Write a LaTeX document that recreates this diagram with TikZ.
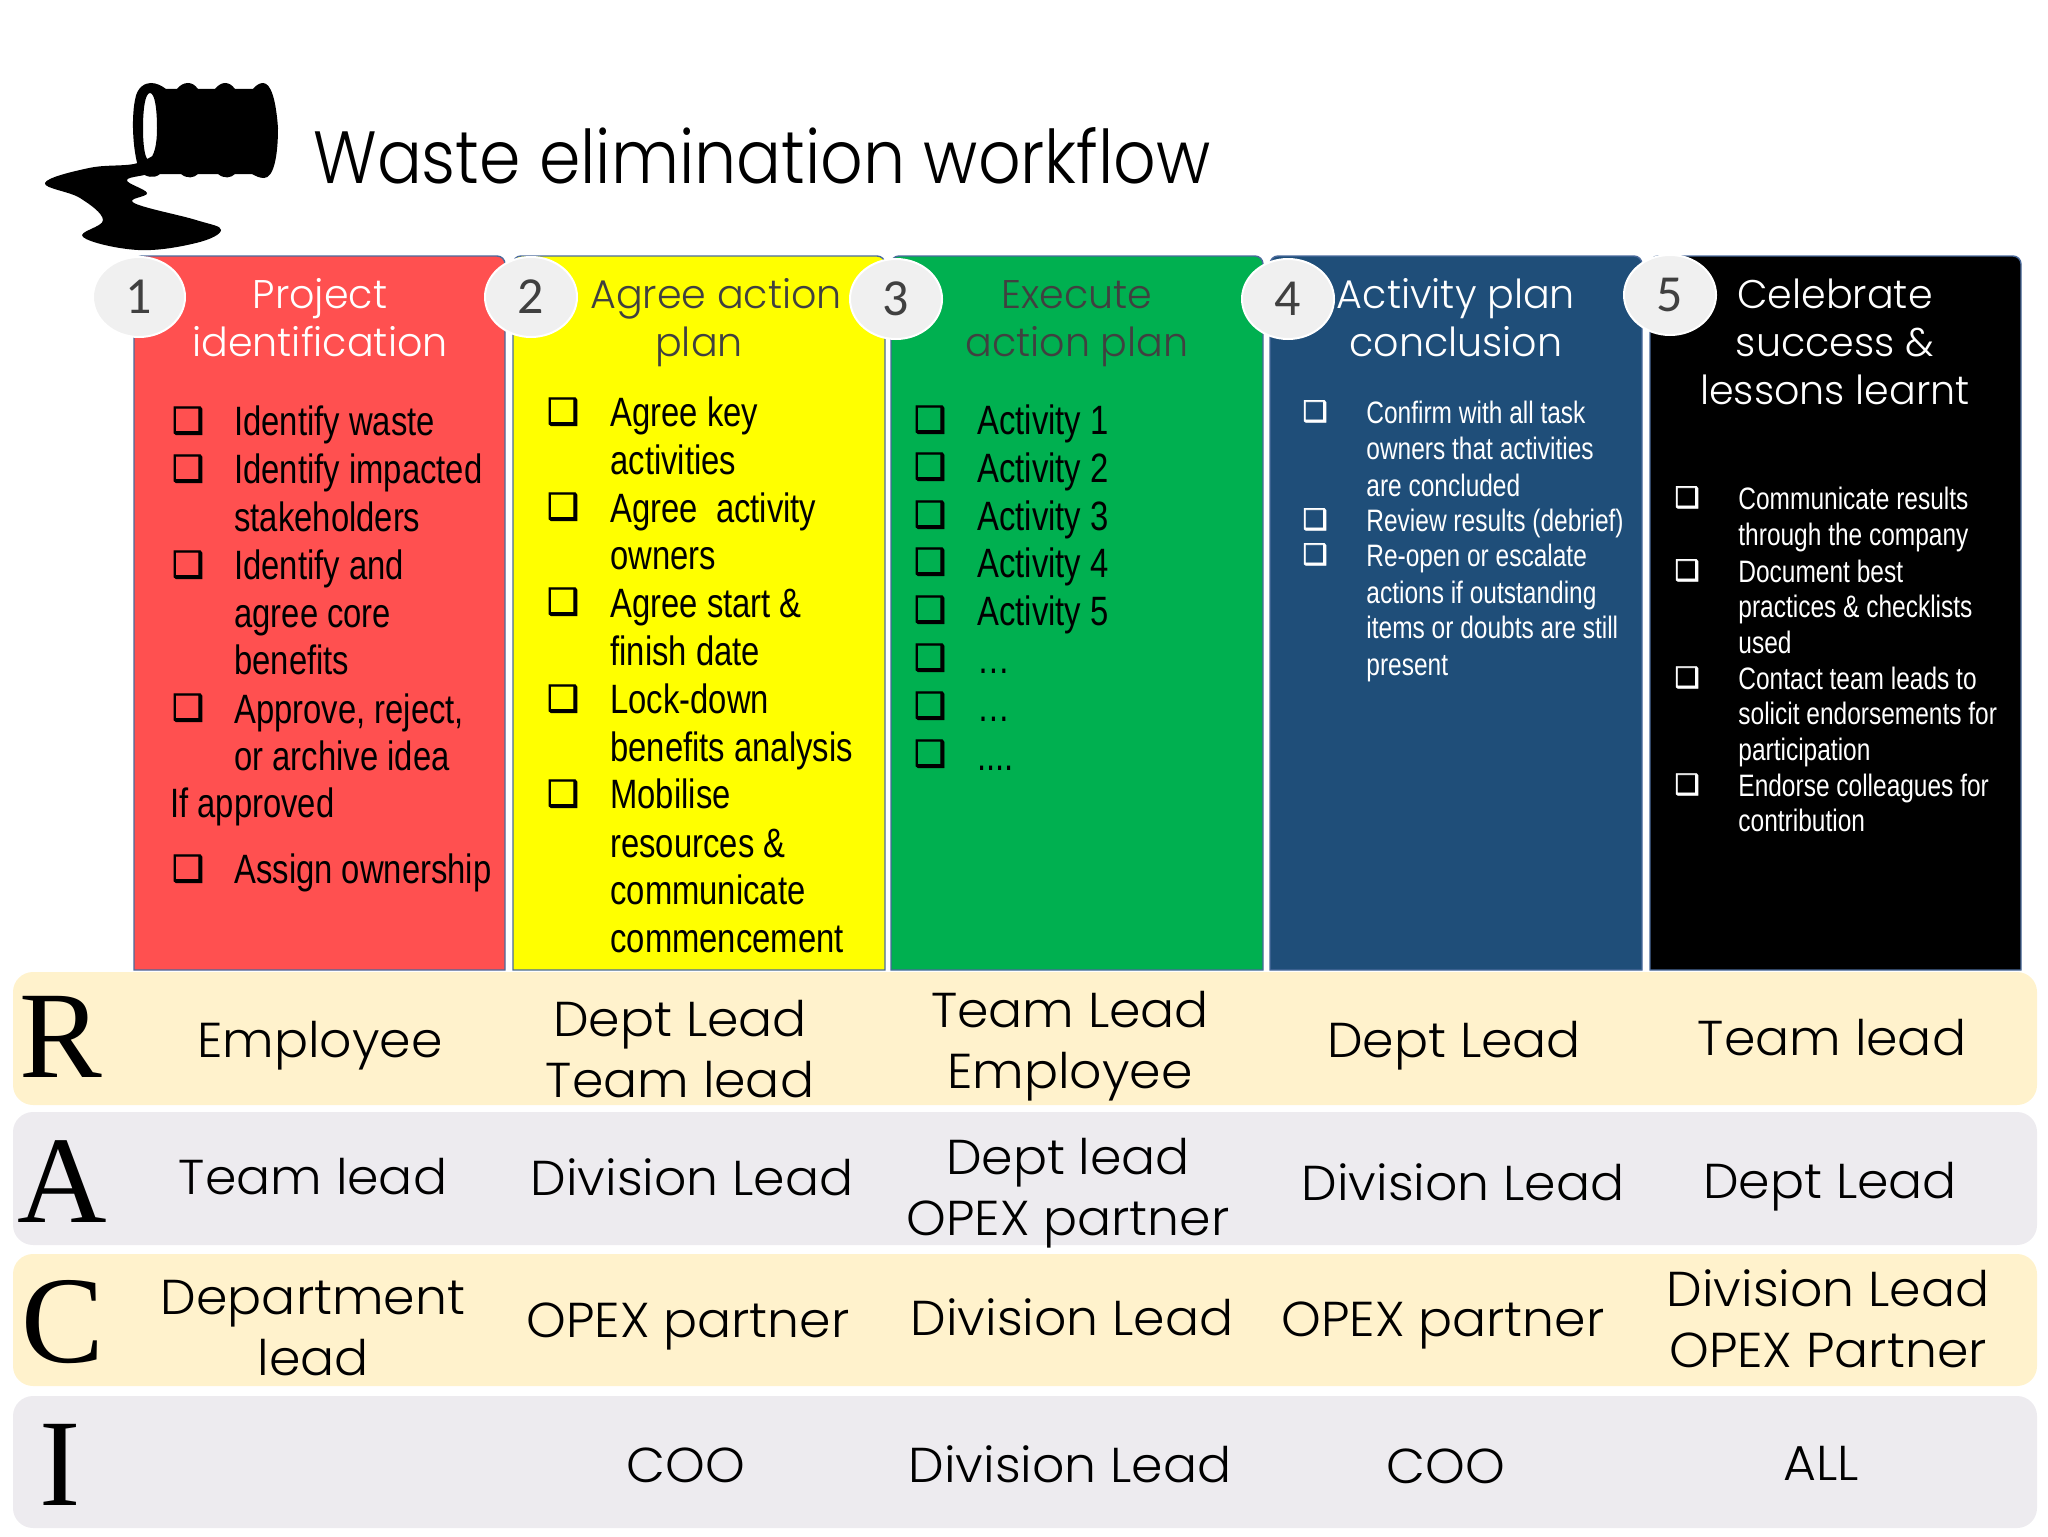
\documentclass[tikz,border=0pt]{standalone}
\usepackage{fontspec}
\setmainfont{Liberation Sans}
\newfontfamily\headf[FakeStretch=0.99]{Poppins Light}
\newfontfamily\titlef[FakeStretch=0.90]{Poppins Light}
\newfontfamily\cellf[FakeStretch=1.03]{Poppins Light}
\newfontfamily\bodyf[FakeStretch=0.80]{Liberation Sans}
\newfontfamily\smallf[FakeStretch=0.79]{Liberation Sans}
\newfontfamily\numf{Carlito}
\newfontfamily\raci{Liberation Serif}
\newfontfamily\boxf[FakeBold=2.5]{DejaVu Sans}
\usetikzlibrary{shapes.geometric}
\definecolor{cred}{HTML}{FF5050}
\definecolor{cyel}{HTML}{FFFF00}
\definecolor{cgre}{HTML}{00B050}
\definecolor{cblu}{HTML}{1F4E79}
\definecolor{rowy}{HTML}{FFF2CC}
\definecolor{rowg}{HTML}{EDEBEF}
\definecolor{edgec}{HTML}{4A6A9C}
\definecolor{numg}{HTML}{404040}
\definecolor{numfill}{HTML}{F0F0F0}
\tikzset{
  x=0.5pt,y=-0.5pt,
  hd/.style={anchor=base,inner sep=0pt,font=\headf\fontsize{20}{24}\selectfont},
  bl/.style={anchor=base west,inner sep=0pt,font=\bodyf\fontsize{20.5}{24}\selectfont},
  cb/.style={anchor=base,inner sep=0pt,font=\boxf\fontsize{18}{20}\selectfont},
  sl/.style={anchor=base west,inner sep=0pt,font=\smallf\fontsize{15.5}{18}\selectfont},
  scb/.style={anchor=base,inner sep=0pt,font=\boxf\fontsize{14}{16}\selectfont},
  cell/.style={anchor=base,inner sep=0pt,font=\cellf\fontsize{24.5}{28}\selectfont},
  let/.style={anchor=base,inner sep=0pt,font=\raci\fontsize{62}{70}\selectfont},
  numc/.style={ellipse,draw=white,line width=1pt,fill=numfill,minimum width=46pt,minimum height=40pt,inner sep=0pt,text=numg,font=\numf\fontsize{26}{30}\selectfont},
  rowbox/.style={rounded corners=10pt},
}
\newcommand{\colshape}[3]{\fill[#3,draw=edgec,line width=0.7pt] (#1,970) [rounded corners=4pt] -- (#1,256) -- (#2,256) [sharp corners] -- (#2,970) -- cycle;}
\begin{document}
\begin{tikzpicture}
\useasboundingbox (0,0) rectangle (2048,1536);
% logo
\fill[black,even odd rule]
  (135,100) .. controls (137,86) and (146,83) .. (151,83) .. controls (157,83) and (162,86) .. (166,89)
  -- (177,89) .. controls (180,85) and (184,83) .. (188,83) .. controls (192,83) and (195,85) .. (198,89)
  -- (215,89) .. controls (218,85) and (222,83) .. (225,83) .. controls (229,83) and (232,85) .. (235,89)
  -- (253,89) .. controls (256,85) and (260,83) .. (263,83) .. controls (271,83) and (276,100) .. (278,128)
  .. controls (278,155) and (274,178) .. (264,178) .. controls (259,178) and (256,176) .. (252,174)
  -- (235,174) .. controls (231,178) and (224,179) .. (218,174)
  -- (198,174) .. controls (194,178) and (187,179) .. (181,174)
  -- (160,174) .. controls (154,179) and (146,177) .. (140,172)
  .. controls (133,155) and (131,120) .. (135,100) -- cycle
  (150,93) .. controls (145,93) and (143,110) .. (143,128) .. controls (143,146) and (145,160) .. (149,160)
  .. controls (154,156) and (157,146) .. (157,128) .. controls (157,110) and (155,93) .. (150,93) -- cycle;
\fill[black] plot[smooth cycle,tension=0.65] coordinates {(157,155) (134,164) (89,168) (45,183) (80,198) (103,220) (83,237) (138,250) (196,243) (221,230) (196,220) (134,203) (147,193) (127,180) (152,172)};
\node[anchor=base west,inner sep=0pt,font=\titlef\fontsize{37}{44}\selectfont] (title) at (313,183) {Waste elimination workflow};
% columns
\colshape{134}{505}{cred}
\colshape{513}{885}{cyel}
\colshape{891}{1263}{cgre}
\colshape{1270}{1642}{cblu}
\colshape{1650}{2021}{black}
% rows
\fill[rowy,rowbox] (13,972) rectangle (2037,1105);
\fill[rowg,rowbox] (13,1112) rectangle (2037,1245);
\fill[rowy,rowbox] (13,1254) rectangle (2037,1386);
\fill[rowg,rowbox] (13,1396) rectangle (2037,1528);
% number badges
\node[numc] (n1) at (139,297) {1};
\node[numc] (n2) at (531,297) {2};
\node[numc] (n3) at (896,299) {3};
\node[numc] (n4) at (1288,299) {4};
\node[numc] (n5) at (1670,295) {5};
% headers
\node[hd,text=white] (h1a) at (320,308) {Project};
\node[hd,text=white] (h1b) at (320,356) {identification};
\node[hd,text=numg] (h2a) at (716,308) {Agree action};
\node[hd,text=numg] (h2b) at (699,356) {plan};
\node[hd,text=numg] (h3a) at (1077,308) {Execute};
\node[hd,text=numg] (h3b) at (1077,356) {action plan};
\node[hd,text=white] (h4a) at (1456,308) {Activity plan};
\node[hd,text=white] (h4b) at (1456,356) {conclusion};
\node[hd,text=white] (h5a) at (1835,308) {Celebrate};
\node[hd,text=white] (h5b) at (1835,356) {success \&};
\node[hd,text=white] (h5c) at (1835,404) {lessons learnt};
% column 1
\foreach \yy/\txt [count=\i] in {435/Identify waste,483/Identify impacted,531/stakeholders,579/Identify and,627/agree core,674/benefits,723/{Approve, reject,},770/or archive idea,883/Assign ownership}
  \node[bl] (a\i) at (234,\yy) {\txt};
\node[bl] (a10) at (170,817) {If approved};
\foreach \yy [count=\i] in {433,481,577,720,881}
  \node[cb] (ab\i) at (188,\yy) {❑};
% column 2
\foreach \yy/\txt [count=\i] in {426/Agree key,474/activities,522/Agree\ \ activity,569/owners,617/Agree start \&,665/finish date,713/Lock-down,761/benefits analysis,808/Mobilise,857/resources \&,904/communicate,952/commencement}
  \node[bl] (b\i) at (610,\yy) {\txt};
\foreach \yy [count=\i] in {424,519,614,711,806}
  \node[cb] (bb\i) at (563,\yy) {❑};
% column 3
\foreach \yy/\txt [count=\i] in {434/Activity 1,482/Activity 2,530/Activity 3,577/Activity 4,625/Activity 5,673/\dots,721/\dots,770/{....}}
  \node[bl] (c\i) at (977,\yy) {\txt};
\foreach \yy [count=\i] in {432,479,527,574,622,670,718,766}
  \node[cb] (cb\i) at (930,\yy) {❑};
% column 4
\foreach \yy/\txt [count=\i] in {423/Confirm with all task,459/owners that activities,496/are concluded,531/Review results (debrief),566/Re-open or escalate,603/actions if outstanding,638/items or doubts are still,675/present}
  \node[sl,text=white] (d\i) at (1366,\yy) {\txt};
\foreach \yy [count=\i] in {421,529,564}
  \node[scb,text=white] (db\i) at (1315,\yy) {❑};
% column 5
\foreach \yy/\txt [count=\i] in {509/Communicate results,545/through the company,582/Document best,617/practices \& checklists,653/used,689/Contact team leads to,724/solicit endorsements for,760/participation,796/Endorse colleagues for,831/contribution}
  \node[sl,text=white] (e\i) at (1738,\yy) {\txt};
\foreach \yy [count=\i] in {507,580,687,794}
  \node[scb,text=white] (eb\i) at (1687,\yy) {❑};
% RACI letters
\node[let] (lr) at (61,1077) {R};
\node[let] (la) at (62,1222) {A};
\node[let] (lc) at (63,1362) {C};
\node[let] (li) at (60,1505) {I};
% R row
\node[cell] (r1) at (320,1057) {Employee};
\node[cell] (r2a) at (680,1036) {Dept Lead};
\node[cell] (r2b) at (680,1097) {Team lead};
\node[cell] (r3a) at (1070,1027) {Team Lead};
\node[cell] (r3b) at (1070,1088) {Employee};
\node[cell] (r4) at (1454,1057) {Dept Lead};
\node[cell] (r5) at (1832,1055) {Team lead};
% A row
\node[cell] (s1) at (313,1194) {Team lead};
\node[cell] (s2) at (692,1195) {Division Lead};
\node[cell] (s3a) at (1068,1174) {Dept lead};
\node[cell] (s3b) at (1068,1235) {OPEX partner};
\node[cell] (s4) at (1463,1200) {Division Lead};
\node[cell] (s5) at (1830,1198) {Dept Lead};
% C row
\node[cell] (t1a) at (313,1314) {Department};
\node[cell] (t1b) at (313,1375) {lead};
\node[cell] (t2) at (688,1337) {OPEX partner};
\node[cell] (t3) at (1072,1335) {Division Lead};
\node[cell] (t4) at (1443,1336) {OPEX partner};
\node[cell] (t5a) at (1828,1306) {Division Lead};
\node[cell] (t5b) at (1828,1367) {OPEX Partner};
% I row
\node[cell] (u2) at (686,1482) {COO};
\node[cell] (u3) at (1070,1482) {Division Lead};
\node[cell] (u4) at (1446,1483) {COO};
\node[cell] (u5) at (1821,1480) {ALL};
\end{tikzpicture}
\end{document}
